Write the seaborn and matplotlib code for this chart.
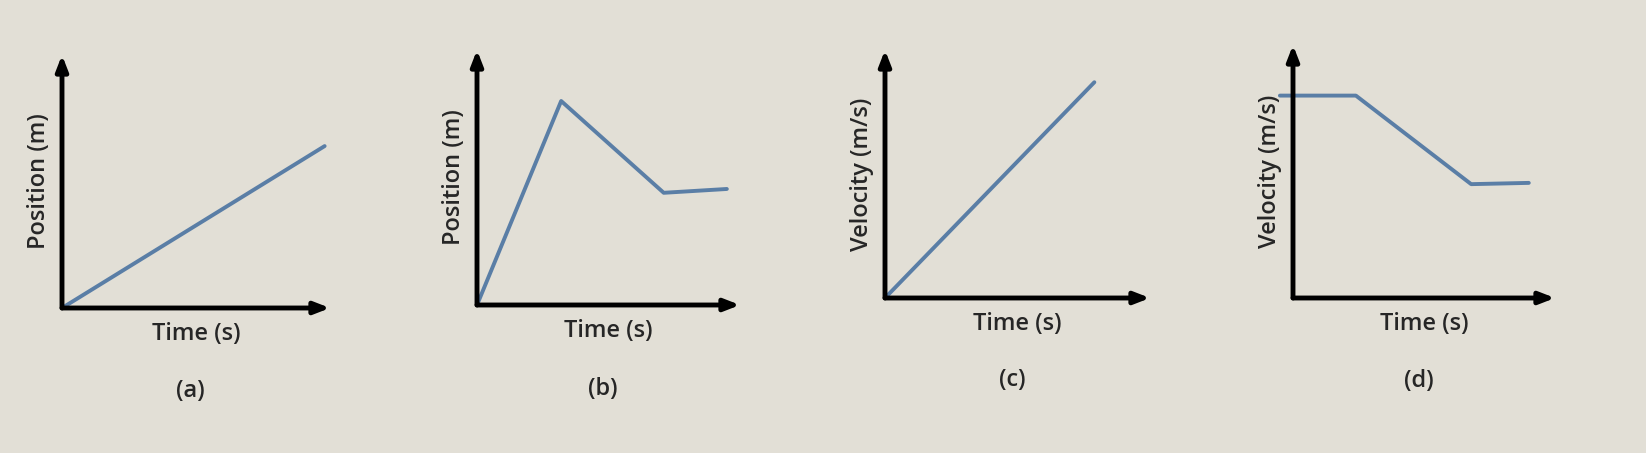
import matplotlib
matplotlib.use("Agg")
import matplotlib.pyplot as plt
import seaborn as sns
import pandas as pd

sns.set_style("white")
plt.rcParams['font.family'] = ['Open Sans', 'DejaVu Sans']

# normalized data (fraction of axis span)
a_t = [0.0, 0.98]; a_v = [0.0, 0.64]
b_t = [0.0, 0.32, 0.71, 0.95]; b_v = [0.0, 0.80, 0.44, 0.455]
c_t = [0.0, 0.79]; c_v = [0.0, 0.87]
d_t = [-0.05, 0.24, 0.68, 0.90]; d_v = [0.80, 0.80, 0.45, 0.455]
ylabels = ["Position (m)", "Position (m)", "Velocity (m/s)", "Velocity (m/s)"]
tags = ["(a)", "(b)", "(c)", "(d)"]
xlabel = "Time (s)"

W, H = 1646, 453
fig = plt.figure(figsize=(W/100, H/100), dpi=100)
fig.patch.set_facecolor("#e2dfd6")
geo = [(62, 308, 330, 55), (477, 305, 740, 50), (885, 298, 1150, 50), (1293, 298, 1555, 45)]
series = [(a_t, a_v), (b_t, b_v), (c_t, c_v), (d_t, d_v)]
for (ox, oy, xe, yt), (t, v), yl, tag in zip(geo, series, ylabels, tags):
    ax = fig.add_axes([ox/W, 1-oy/H, (xe-ox)/W, (oy-yt)/H])
    ax.set_facecolor("none")
    ax.set_xlim(0, 1); ax.set_ylim(0, 1)
    sns.lineplot(x=t, y=v, ax=ax, color="#5a7ea6", lw=2.8, clip_on=False)
    for s in ax.spines.values():
        s.set_visible(False)
    ax.set_xticks([]); ax.set_yticks([])
    for end in [(1, 0), (0, 1)]:
        ax.annotate("", xy=end, xytext=(0, 0), xycoords="axes fraction",
                    arrowprops=dict(arrowstyle="-|>,head_length=0.9,head_width=0.35", lw=3.5,
                                    color="black", shrinkA=0, shrinkB=0))
    ax.set_xlabel(xlabel, fontsize=17, fontweight="semibold", labelpad=10)
    ax.set_ylabel(yl, fontsize=17, fontweight="semibold", labelpad=8)
    ax.text(0.48, -0.33, tag, transform=ax.transAxes, ha="center", va="center",
            fontsize=17, fontweight="semibold")
fig.savefig("out.png", dpi=100, facecolor=fig.get_facecolor())
